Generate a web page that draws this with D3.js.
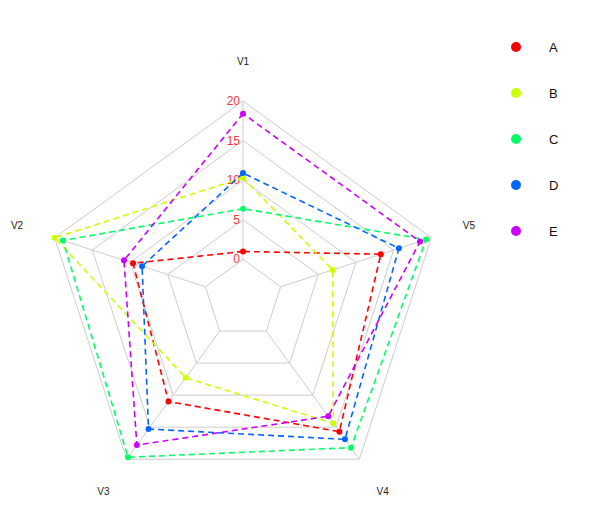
<!DOCTYPE html>
<html>
<head>
<meta charset="utf-8">
<script src="https://cdn.jsdelivr.net/npm/d3@7/dist/d3.min.js"></script>
<style>
  html, body { margin: 0; padding: 0; background: #fff; }
  svg { display: block; font-family: "Liberation Sans", Arial, sans-serif; }
</style>
</head>
<body>
<svg id="chart" width="600" height="505"></svg>
<script>
// variables (axes) and series
const axes = ['V1', 'V2', 'V3', 'V4', 'V5'];
const series = ['A', 'B', 'C', 'D', 'E'];
const colors = ['#FF0000', '#CCFF00', '#00FF66', '#0066FF', '#CC00FF'];
const ticks = [0, 5, 10, 15, 20];

// values per series, in axis order V1..V5
const valA = [1.0, 9.6, 11.0, 15.7, 13.3];
const valB = [10.3, 20.0, 7.3, 14.4, 6.9];
const valC = [6.4, 18.9, 19.7, 18.2, 19.3];
const valD = [10.9, 8.4, 15.3, 16.9, 15.7];
const valE = [18.4, 10.8, 17.8, 13.3, 18.5];
const values = [valA, valB, valC, valD, valE];

const svg = d3.select('#chart');
const cx = 243, cy = 299, R = 198;

// fmsb style: value 0 sits on the first ring, not at the centre
const r = d3.scaleLinear().domain([0, 20]).range([R / 5, R]);
const angle = d3.scaleLinear().domain([0, axes.length]).range([Math.PI / 2, Math.PI / 2 + 2 * Math.PI]);

function pt(i, rad) {
  const a = angle(i);
  return [cx + rad * Math.cos(a), cy - rad * Math.sin(a)];
}

const g = svg.append('g');

// grid rings
ticks.forEach((t) => {
  const ring = axes.map((_, i) => pt(i, r(t)));
  g.append('polygon')
    .attr('points', ring.map((p) => p.join(',')).join(' '))
    .attr('fill', 'none')
    .attr('stroke', '#cccccc')
    .attr('stroke-width', 1);
});

// axis spokes from the inner ring to the outer one
axes.forEach((name, i) => {
  const p0 = pt(i, r(0)), p1 = pt(i, r(20));
  g.append('line')
    .attr('x1', p0[0]).attr('y1', p0[1])
    .attr('x2', p1[0]).attr('y2', p1[1])
    .attr('stroke', '#cccccc')
    .attr('stroke-width', 1);

  const pl = pt(i, R * 1.2);
  g.append('text')
    .attr('x', pl[0]).attr('y', pl[1])
    .attr('text-anchor', 'middle')
    .attr('dominant-baseline', 'central')
    .attr('font-size', 10)
    .attr('fill', '#222')
    .text(name);
});

// tick labels along V1
ticks.forEach((t) => {
  const p = pt(0, r(t));
  g.append('text')
    .attr('x', p[0] - 3).attr('y', p[1])
    .attr('text-anchor', 'end')
    .attr('dominant-baseline', 'central')
    .attr('font-size', 12)
    .attr('fill', '#FF3333')
    .text(t);
});

// series polygons
values.forEach((vals, s) => {
  const pts = vals.map((v, i) => pt(i, r(v)));
  g.append('path')
    .attr('d', d3.line().curve(d3.curveLinearClosed)(pts))
    .attr('fill', 'none')
    .attr('stroke', colors[s])
    .attr('stroke-width', 1.6)
    .attr('stroke-dasharray', '6,4');
  g.selectAll(null).data(pts).enter().append('circle')
    .attr('cx', (d) => d[0]).attr('cy', (d) => d[1])
    .attr('r', 3)
    .attr('fill', colors[s]);
});

// legend
const leg = svg.append('g');
series.forEach((name, s) => {
  const y = 47 + s * 46;
  leg.append('circle')
    .attr('cx', 516).attr('cy', y).attr('r', 5)
    .attr('fill', colors[s]);
  leg.append('text')
    .attr('x', 549).attr('y', y)
    .attr('dominant-baseline', 'central')
    .attr('font-size', 13)
    .attr('fill', '#111')
    .text(name);
});
</script>
</body>
</html>
